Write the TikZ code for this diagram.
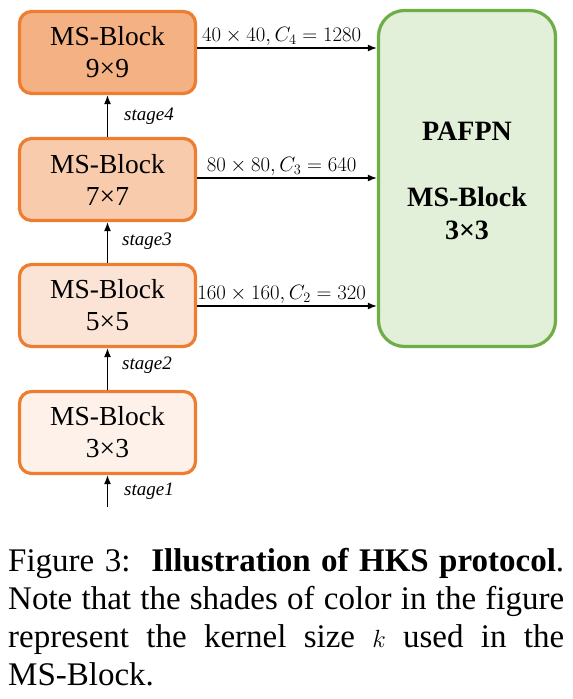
\documentclass[tikz,border=0pt]{standalone}
\usepackage{fontspec}
\setmainfont{Liberation Serif}
\usetikzlibrary{arrows.meta}
\definecolor{ob}{HTML}{ED7D31}
\definecolor{f9}{HTML}{F4B183}
\definecolor{f7}{HTML}{F8CBAD}
\definecolor{f5}{HTML}{FBE4D6}
\definecolor{f3}{HTML}{FDF1EA}
\definecolor{gb}{HTML}{70AD47}
\definecolor{gf}{HTML}{E2F0D9}
\tikzset{
  msblock/.style={draw=ob, line width=3.2pt, rounded corners=12pt, minimum width=176pt, minimum height=82pt, align=center, font=\fontsize{27.5}{32}\selectfont, inner sep=0pt},
  pafpn/.style={draw=gb, line width=3.2pt, rounded corners=26pt, minimum width=177pt, minimum height=336pt, fill=gf, inner sep=0pt},
  conn/.style={-{Latex[length=9pt,width=7pt]}, line width=1.4pt},
  stagelab/.style={font=\fontsize{19}{21}\selectfont\itshape, anchor=west, inner sep=0pt},
  edgelab/.style={font=\fontsize{20}{22}\selectfont, anchor=south, inner sep=2pt},
}
\begin{document}
\begin{tikzpicture}[x=1pt,y=-1pt]
\useasboundingbox (0,0) rectangle (573,699);
\node[msblock, fill=f9] (b9) at (107.5,52.5) {MS-Block\\9×9};
\node[msblock, fill=f7] (b7) at (107.5,179.5) {MS-Block\\7×7};
\node[msblock, fill=f5] (b5) at (107.5,305.5) {MS-Block\\5×5};
\node[msblock, fill=f3] (b3) at (107.5,432.5) {MS-Block\\3×3};
\node[pafpn] (p) at (467,178.5) {};
\node[font=\fontsize{28}{33}\selectfont\bfseries] (pt) at (467,131) {PAFPN};
\node[font=\fontsize{28}{33}\selectfont\bfseries, align=center] (pm) at (467,213) {MS-Block\\3×3};
\coordinate (s1) at (107.5,507);
\draw[conn] (s1) -- (b3.south);
\draw[conn] (b3.north) -- (b5.south);
\draw[conn] (b5.north) -- (b7.south);
\draw[conn] (b7.north) -- (b9.south);
\node[stagelab] (l1) at (124,491) {stage1};
\node[stagelab] (l2) at (122,365) {stage2};
\node[stagelab] (l3) at (122,241) {stage3};
\node[stagelab] (l4) at (124,116) {stage4};
\draw[conn] (b9.east |- 0,48) -- node[edgelab, pos=0.47] {$40\times40, C_4=1280$} (p.west |- 0,48);
\draw[conn] (b7.east |- 0,178) -- node[edgelab, pos=0.47] {$80\times80, C_3=640$} (p.west |- 0,178);
\draw[conn] (b5.east |- 0,306) -- node[edgelab, pos=0.47] {$160\times160, C_2=320$} (p.west |- 0,306);
\node[anchor=north west, inner sep=0pt, text width=556pt, align=justify, font=\fontsize{33}{38}\selectfont] (cap) at (8,548) {Figure 3:\ \ \textbf{Illustration of HKS protocol}.\linebreak Note that the shades of color in the figure\linebreak represent the kernel size $k$ used in the\linebreak MS-Block.};
\end{tikzpicture}
\end{document}
